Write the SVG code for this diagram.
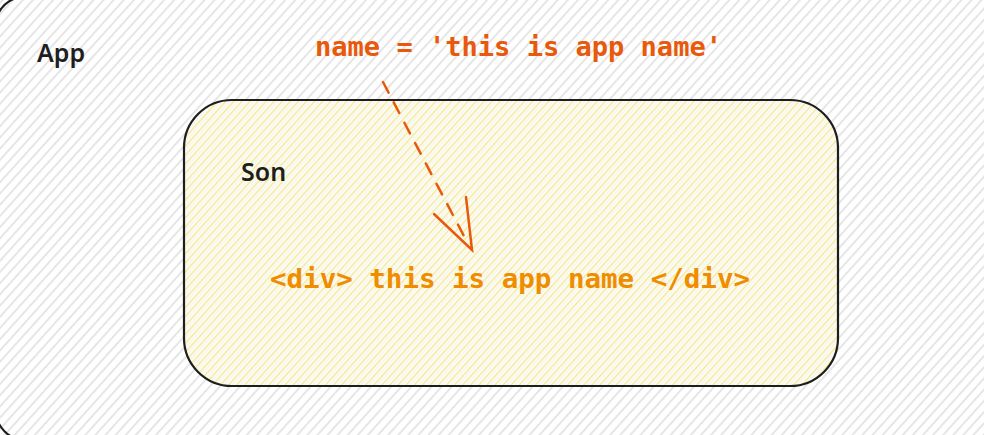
<svg xmlns="http://www.w3.org/2000/svg" width="984" height="435" viewBox="0 0 984 435">
<defs>
<pattern id="hatchGrey" patternUnits="userSpaceOnUse" width="7.5" height="7.5" patternTransform="rotate(42)">
<rect width="7.5" height="7.5" fill="#ffffff"/>
<line x1="2" y1="0" x2="2" y2="7.5" stroke="#e3e3e3" stroke-width="1.8"/>
</pattern>
<pattern id="hatchYellow" patternUnits="userSpaceOnUse" width="6" height="6" patternTransform="rotate(42)">
<rect width="6" height="6" fill="#fffef6"/>
<line x1="1.5" y1="0" x2="1.5" y2="6" stroke="#f4e89c" stroke-width="1.6"/>
<line x1="4.3" y1="0" x2="4.3" y2="6" stroke="#ebebeb" stroke-width="0.8"/>
</pattern>
</defs>
<style>
.box{stroke:#1e1e1e;stroke-width:2.2;}
.label{font-family:"Noto Sans","Open Sans",sans-serif;font-weight:600;font-size:25px;fill:#1e1e1e;}
.code{font-family:"DejaVu Sans Mono","Liberation Mono",monospace;font-weight:bold;font-size:26px;}
.edge{fill:none;stroke:#e8590c;stroke-width:2.5;stroke-linecap:round;}
</style>
<rect x="0" y="0" width="984" height="435" fill="url(#hatchGrey)"/>
<g id="app">
<path class="box" fill="none" d="M-2 14 Q4 2 16 -2 M-2 422 Q3 432 12 437"/>
<text class="label" x="37" y="62">App</text>
<text class="code" x="315" y="56" fill="#e8590c" textLength="407" lengthAdjust="spacingAndGlyphs">name = 'this is app name'</text>
</g>
<g id="son">
<rect class="box" x="184" y="100" width="654" height="286" rx="48" ry="48" fill="url(#hatchYellow)"/>
<text class="label" x="241" y="181">Son</text>
<text class="code" x="270" y="288" fill="#f08c00" textLength="480" lengthAdjust="spacingAndGlyphs">&lt;div&gt; this is app name &lt;/div&gt;</text>
</g>
<g id="connectors">
<path class="edge" d="M383 82 L465 238" stroke-dasharray="12 11"/>
<path class="edge" d="M434 214 L472 250 L466 197"/>
</g>
</svg>
